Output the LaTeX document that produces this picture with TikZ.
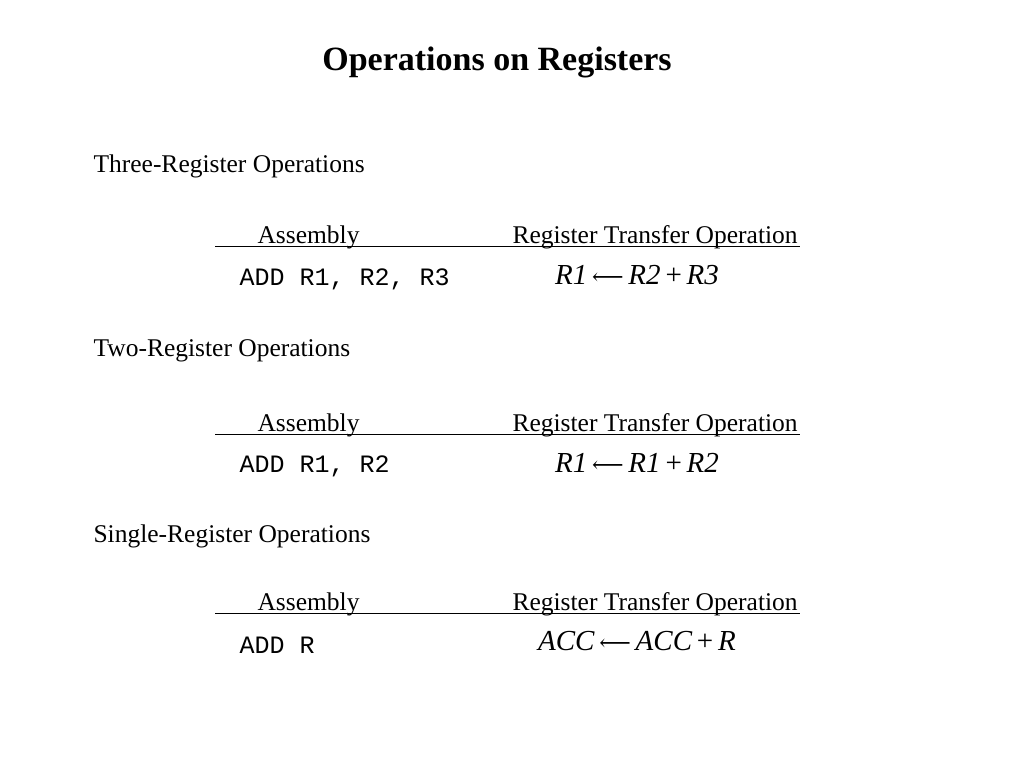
\documentclass[tikz,border=0pt]{standalone}
\usepackage{fontspec}
\setmainfont{Liberation Serif}
\newfontfamily\codefont{Liberation Mono}
\newfontfamily\arrfont{DejaVu Serif}
\begin{document}
\begin{tikzpicture}[x=1pt,y=-1pt,
  sec/.style={anchor=west,font=\fontsize{25.5}{28}\selectfont},
  hd/.style={anchor=base west,font=\fontsize{25.5}{28}\selectfont},
  code/.style={anchor=west,font=\codefont\fontsize{25}{28}\selectfont},
  op/.style={font=\itshape\fontsize{29}{32}\selectfont},
  rule/.style={line width=0.9pt}]
\useasboundingbox (0,0) rectangle (1024,768);
\node[font=\bfseries\fontsize{34}{38}\selectfont] (title) at (497,62) {Operations on Registers};
\foreach \n/\name/\hy/\ry in {a/Three/166/243, b/Two/351/431, c/Single/536/610}{
  \node[sec] (s\n) at (90,\hy) {\name-Register Operations};
  \node[hd] (as\n) at (254,\ry) {Assembly};
  \node[hd] (rt\n) at (509,\ry) {Register Transfer Operation};
  \coordinate (l\n) at (215,\ry+3);
  \coordinate (r\n) at (800,\ry+3);
  \draw[rule] (l\n) -- (r\n);
}
\node[code] (ca) at (236,279) {ADD R1, R2, R3};
\node[code] (cb) at (236,466) {ADD R1, R2};
\node[code] (cc) at (236,645) {ADD R};
\node[op] (oa) at (637,275) {R1\,{\upshape\arrfont\fontsize{22}{24}\selectfont⟵}\,R2\,{\upshape+}\,R3};
\node[op] (ob) at (637,463) {R1\,{\upshape\arrfont\fontsize{22}{24}\selectfont⟵}\,R1\,{\upshape+}\,R2};
\node[op] (oc) at (637,641) {ACC\,{\upshape\arrfont\fontsize{22}{24}\selectfont⟵}\,ACC\,{\upshape+}\,R};
\end{tikzpicture}
\end{document}
